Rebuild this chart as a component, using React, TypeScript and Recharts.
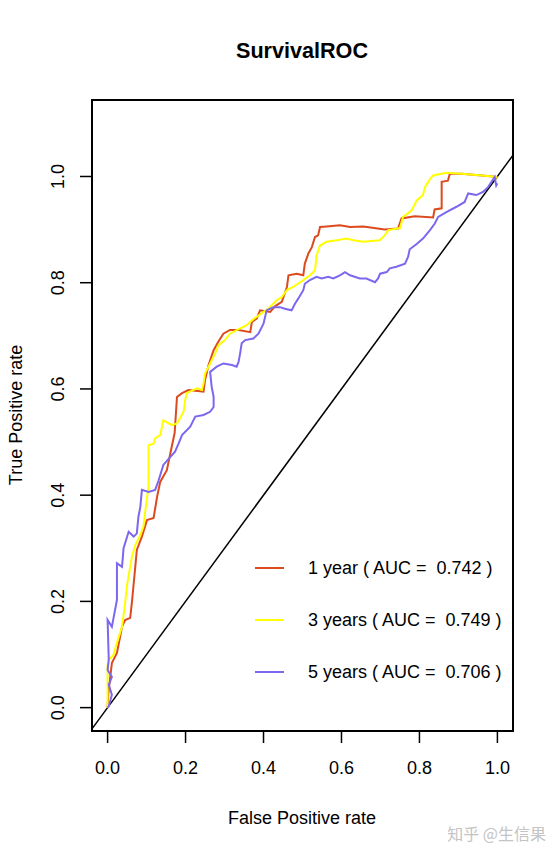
import React from "react"
import {
  LineChart,
  Line,
  XAxis,
  YAxis,
  Legend,
  ReferenceLine,
  ReferenceArea,
  Customized,
} from "recharts"

const FONT = "'Liberation Sans', Arial, sans-serif"

// 1 year curve (false positive rate, true positive rate)
const year1Fpr = [
  0, 0.002, 0.011, 0.024, 0.037, 0.045, 0.058, 0.0625, 0.071, 0.075, 0.088, 0.101, 0.118, 0.127, 0.135, 0.152,
  0.161, 0.172, 0.178, 0.191, 0.207, 0.246, 0.25, 0.259, 0.272, 0.284, 0.297, 0.314, 0.336, 0.366, 0.37, 0.383,
  0.391, 0.417, 0.43, 0.447, 0.46, 0.464, 0.485, 0.502, 0.506, 0.515, 0.524, 0.532, 0.54, 0.545, 0.562, 0.596,
  0.622, 0.656, 0.711, 0.745, 0.754, 0.788, 0.835, 0.839, 0.857, 0.857, 0.873, 0.878, 0.908, 0.989, 1.0,
]
const year1Tpr = [
  0, 0.028, 0.084, 0.103, 0.152, 0.165, 0.169, 0.199, 0.265, 0.297, 0.322, 0.353, 0.357, 0.397, 0.425, 0.447,
  0.479, 0.517, 0.585, 0.592, 0.598, 0.595, 0.617, 0.645, 0.673, 0.689, 0.704, 0.711, 0.711, 0.707, 0.726, 0.733,
  0.748, 0.745, 0.756, 0.764, 0.792, 0.814, 0.817, 0.814, 0.836, 0.855, 0.867, 0.886, 0.889, 0.905, 0.906, 0.908,
  0.905, 0.906, 0.9, 0.902, 0.921, 0.925, 0.923, 0.938, 0.94, 0.99, 0.992, 1.005, 1.005, 1.0, 0.998,
]

// 3 years curve
const year3Fpr = [
  0, 0, 0.003, 0.015, 0.024, 0.037, 0.041, 0.045, 0.05, 0.058, 0.0625, 0.071, 0.084, 0.092, 0.097, 0.105, 0.105,
  0.118, 0.122, 0.135, 0.143, 0.165, 0.178, 0.195, 0.199, 0.203, 0.229, 0.242, 0.246, 0.25, 0.263, 0.276, 0.284,
  0.301, 0.314, 0.34, 0.357, 0.37, 0.383, 0.4, 0.412, 0.434, 0.447, 0.46, 0.476, 0.502, 0.519, 0.532, 0.536,
  0.545, 0.562, 0.588, 0.613, 0.63, 0.656, 0.698, 0.711, 0.72, 0.75, 0.758, 0.78, 0.793, 0.809, 0.814, 0.827,
  0.835, 0.869, 0.908, 0.989, 1.0,
]
const year3Tpr = [
  0, 0.08, 0.09, 0.099, 0.122, 0.152, 0.174, 0.197, 0.231, 0.265, 0.284, 0.306, 0.325, 0.341, 0.372, 0.416, 0.494,
  0.497, 0.507, 0.513, 0.541, 0.532, 0.535, 0.557, 0.579, 0.592, 0.601, 0.598, 0.61, 0.629, 0.648, 0.667, 0.682,
  0.692, 0.704, 0.714, 0.72, 0.729, 0.736, 0.745, 0.751, 0.767, 0.773, 0.786, 0.792, 0.805, 0.814, 0.823, 0.851,
  0.87, 0.877, 0.88, 0.883, 0.88, 0.877, 0.88, 0.889, 0.899, 0.903, 0.924, 0.936, 0.955, 0.965, 0.98, 0.995,
  1.002, 1.007, 1.005, 1.0, 0.998,
]

// 5 years curve
const year5Fpr = [
  0, 0.003, 0.011, 0.003, 0.011, 0, 0.003, 0, 0.011, 0.024, 0.024, 0.037, 0.041, 0.054, 0.067, 0.075, 0.079,
  0.084, 0.088, 0.105, 0.122, 0.131, 0.143, 0.161, 0.173, 0.182, 0.191, 0.212, 0.225, 0.246, 0.263, 0.272, 0.272,
  0.267, 0.263, 0.28, 0.297, 0.319, 0.331, 0.336, 0.34, 0.344, 0.353, 0.374, 0.387, 0.4, 0.408, 0.425, 0.442,
  0.455, 0.472, 0.481, 0.489, 0.502, 0.506, 0.519, 0.536, 0.549, 0.566, 0.579, 0.596, 0.609, 0.622, 0.647, 0.664,
  0.686, 0.694, 0.699, 0.716, 0.724, 0.741, 0.763, 0.771, 0.775, 0.793, 0.809, 0.827, 0.839, 0.848, 0.869, 0.895,
  0.916, 0.925, 0.946, 0.963, 0.976, 0.985, 0.993, 0.997, 1.0,
]
const year5Tpr = [
  0, 0.002, 0.024, 0.043, 0.058, 0.071, 0.09, 0.165, 0.152, 0.203, 0.272, 0.265, 0.3, 0.331, 0.322, 0.328, 0.359,
  0.378, 0.41, 0.406, 0.41, 0.428, 0.457, 0.472, 0.482, 0.497, 0.513, 0.529, 0.548, 0.551, 0.557, 0.566, 0.585,
  0.604, 0.632, 0.642, 0.648, 0.645, 0.642, 0.651, 0.667, 0.686, 0.692, 0.695, 0.704, 0.723, 0.748, 0.754, 0.754,
  0.751, 0.748, 0.761, 0.77, 0.786, 0.798, 0.805, 0.811, 0.808, 0.811, 0.808, 0.814, 0.82, 0.814, 0.808, 0.808,
  0.801, 0.808, 0.817, 0.82, 0.827, 0.83, 0.836, 0.849, 0.863, 0.873, 0.883, 0.899, 0.911, 0.924, 0.933, 0.943,
  0.952, 0.968, 0.965, 0.971, 0.98, 0.99, 0.999, 0.983, 0.987,
]

const seriesNames = ["1 year ( AUC =  0.742 )", "3 years ( AUC =  0.749 )", "5 years ( AUC =  0.706 )"]
const seriesColors = ["#DC4A1E", "#FFFF00", "#7B68EE"]

const xTicks = [0, 0.2, 0.4, 0.6, 0.8, 1.0]
const yTicks = [0, 0.2, 0.4, 0.6, 0.8, 1.0]

const toPoints = (fpr: number[], tpr: number[]) => fpr.map((f, i) => ({ fpr: f, tpr: tpr[i] }))

const series = [
  toPoints(year1Fpr, year1Tpr),
  toPoints(year3Fpr, year3Tpr),
  toPoints(year5Fpr, year5Tpr),
]

const YTick = (props: any) => {
  const { x, y, payload } = props
  return (
    <text
      x={x - 20}
      y={y}
      dy="0.35em"
      transform={`rotate(-90, ${x - 20}, ${y})`}
      textAnchor="middle"
      fontSize={18}
      fontFamily={FONT}
      fill="#000"
    >
      {payload.value.toFixed(1)}
    </text>
  )
}

const LegendBox = () => (
  <div style={{ fontFamily: FONT, fontSize: 18, color: "#000" }}>
    {seriesNames.map((name, i) => (
      <div key={name} style={{ height: 52, display: "flex", alignItems: "center" }}>
        <div style={{ width: 29, height: 2.5, background: seriesColors[i], marginLeft: 5, marginRight: 24 }} />
        <span style={{ whiteSpace: "pre" }}>{name}</span>
      </div>
    ))}
  </div>
)

const Titles = () => (
  <g fontFamily={FONT} fill="#000">
    <text x={302} y={58} textAnchor="middle" fontSize={21.6} fontWeight="bold">
      SurvivalROC
    </text>
    <text x={302} y={824} textAnchor="middle" fontSize={18}>
      False Positive rate
    </text>
    <text x={22} y={415} textAnchor="middle" fontSize={18} transform="rotate(-90, 22, 415)">
      True Positive rate
    </text>
    <text
      x={546}
      y={840}
      textAnchor="end"
      fontSize={16}
      fill="#c4c4c4"
      fontFamily="'Noto Sans CJK SC', sans-serif"
    >
      知乎 @生信果
    </text>
  </g>
)

export default function App() {
  return (
    <div style={{ position: "absolute", left: 0, top: 0, width: 560, height: 856, background: "#fff" }}>
      <LineChart width={560} height={856} margin={{ top: 100, right: 47, bottom: 0, left: 0 }}>
        <XAxis
          type="number"
          dataKey="fpr"
          domain={[-0.04, 1.04]}
          allowDataOverflow
          ticks={xTicks}
          tickFormatter={(v: number) => v.toFixed(1)}
          axisLine={false}
          tickLine={{ stroke: "#000", strokeWidth: 1.5 }}
          tickSize={12}
          tickMargin={18}
          height={125}
          tick={{ fontSize: 18, fill: "#000", fontFamily: FONT }}
        />
        <YAxis
          type="number"
          dataKey="tpr"
          domain={[-0.044, 1.144]}
          allowDataOverflow
          ticks={yTicks}
          axisLine={false}
          tickLine={{ stroke: "#000", strokeWidth: 1.5 }}
          tickSize={12}
          width={92}
          tick={<YTick />}
        />
        <ReferenceLine
          segment={[
            { x: -0.04, y: -0.04 },
            { x: 1.04, y: 1.04 },
          ]}
          stroke="#000"
          strokeWidth={1.5}
          ifOverflow="visible"
        />
        {series.map((d, i) => (
          <Line
            key={seriesNames[i]}
            data={d}
            dataKey="tpr"
            name={seriesNames[i]}
            type="linear"
            stroke={seriesColors[i]}
            strokeWidth={2}
            dot={false}
            activeDot={false}
            isAnimationActive={false}
          />
        ))}
        <ReferenceArea
          x1={-0.04}
          x2={1.04}
          y1={-0.044}
          y2={1.144}
          fill="none"
          fillOpacity={0}
          stroke="#000"
          strokeWidth={2}
          ifOverflow="visible"
        />
        <Legend
          layout="horizontal"
          verticalAlign="middle"
          align="center"
          wrapperStyle={{ left: 250, top: 542, width: 290 }}
          content={<LegendBox />}
        />
        <Customized component={<Titles />} />
      </LineChart>
    </div>
  )
}
